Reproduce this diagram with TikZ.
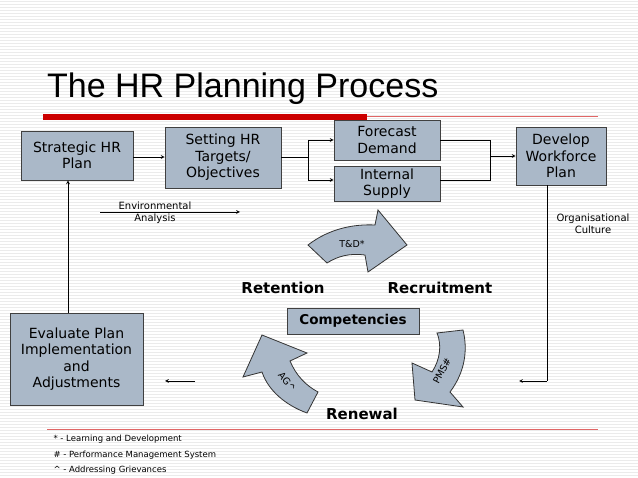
\documentclass[tikz,border=0pt]{standalone}
\usepackage{fontspec}
\setmainfont{DejaVu Sans}
\newfontfamily\titlefont{Liberation Sans}
\definecolor{boxfill}{RGB}{170,184,200}
\definecolor{hrred}{RGB}{204,0,0}
\begin{document}
\begin{tikzpicture}[x=1pt,y=-1pt,
  box/.style={draw=black!75,fill=boxfill,line width=0.8pt,align=center,font=\fontsize{14}{16.5}\selectfont,inner sep=0pt},
  conn/.style={line width=0.7pt,-stealth},
  ln/.style={line width=0.7pt},
  curv/.style={fill=boxfill,draw=black!80,line width=0.8pt},
  big/.style={font=\fontsize{15}{17}\selectfont\bfseries},
  small/.style={font=\fontsize{10}{12}\selectfont,align=center},
  foot/.style={font=\fontsize{8.5}{10}\selectfont,anchor=west}]
\useasboundingbox (0,0) rectangle (638,478);
\fill[white] (0,0) rectangle (638,478);
\foreach \y in {1,4,...,478} \draw[black!8,line width=0.5pt] (0,\y) -- (638,\y);
% title
\node[anchor=base west,inner sep=0pt,font=\titlefont\fontsize{34}{36}\selectfont] (title) at (47,98) {The HR Planning Process};
\fill[hrred] (43,114) rectangle (367,120);
\draw[hrred!60,line width=1pt] (367,117) -- (598,117);
% boxes
\node[box,minimum width=112,minimum height=49] (shr) at (77,155.5) {Strategic HR\\Plan};
\node[box,minimum width=116,minimum height=61] (set) at (223,157.5) {Setting HR\\Targets/\\Objectives};
\node[box,minimum width=106,minimum height=40] (fd) at (387,140) {Forecast\\Demand};
\node[box,minimum width=106,minimum height=35] (is) at (387,183.5) {Internal\\Supply};
\node[box,minimum width=90,minimum height=58] (dwp) at (561,156) {Develop\\Workforce\\Plan};
\node[box,minimum width=133,minimum height=92] (ev) at (76.5,359) {Evaluate Plan\\Implementation\\and\\Adjustments};
\node[box,minimum width=132,minimum height=26,font=\fontsize{13.5}{15}\selectfont\bfseries] (comp) at (353,321) {Competencies};
% connectors
\draw[conn] (shr.east |- 0,157) -- (set.west |- 0,157);
\coordinate (s1) at (308,140); \coordinate (s2) at (308,180);
\draw[ln] (set.east |- 0,157) -- (308,157);
\draw[ln] (s1) -- (s2);
\draw[conn] (s1) -- (fd.west |- s1);
\draw[conn] (s2) -- (is.west |- s2);
\coordinate (d1) at (490,140); \coordinate (d2) at (490,180);
\draw[ln] (fd.east |- d1) -- (d1) -- (d2) -- (is.east |- d2);
\draw[conn] (490,156) -- (dwp.west |- 0,156);
\coordinate (dc) at (547,381); \coordinate (de) at (519,381);
\draw[ln] (dwp.south -| dc) -- (dc);
\draw[conn] (dc) -- (de);
\coordinate (ea) at (195,381);
\draw[conn] (ea) -- (165,381);
\draw[conn] (ev.north -| 68,0) -- (shr.south -| 68,0);
\coordinate (env1) at (100,212); \coordinate (env2) at (240,212);
\draw[conn] (env1) -- (env2);
\node[small] (envt) at (155,212.5) {Environmental\\Analysis};
\node[small] (org) at (593,223.5) {Organisational\\Culture};
% curved arrows
\draw[curv] (308,245) .. controls (330,228) and (355,224) .. (375,225) -- (378,210) -- (407,245) -- (368,272) -- (365,255) .. controls (350,253) and (338,256) .. (327,263) -- cycle;
\node[font=\fontsize{9.5}{11}\selectfont] (td) at (352,244) {T\&D*};
\draw[curv] (437,333) .. controls (442,345) and (440,360) .. (432,372) -- (412,363) -- (415,400) -- (463,407) -- (450,392) .. controls (465,372) and (468,350) .. (463,330) -- cycle;
\node[font=\fontsize{9.5}{11}\selectfont,rotate=62] (pms) at (442,371) {PMS\#};
\draw[curv] (262,335) -- (307,353) -- (290,361) .. controls (296,375) and (305,385) .. (318,392) -- (307,413) .. controls (285,405) and (268,390) .. (262,372) -- (243,377) -- cycle;
\node[font=\fontsize{9.5}{11}\selectfont,rotate=-52] (ag) at (287,382) {AG\textasciicircum};
\node[big] (ret) at (283,288) {Retention};
\node[big] (rec) at (440,288) {Recruitment};
\node[big] (ren) at (362,414) {Renewal};
% footer
\draw[hrred!60,line width=1pt] (47,430) -- (598,430);
\node[foot] (f1) at (50,439) {* - Learning and Development};
\node[foot] (f2) at (50,455) {\# - Performance Management System};
\node[foot] (f3) at (50,470) {\textasciicircum\ - Addressing Grievances};
\end{tikzpicture}
\end{document}
